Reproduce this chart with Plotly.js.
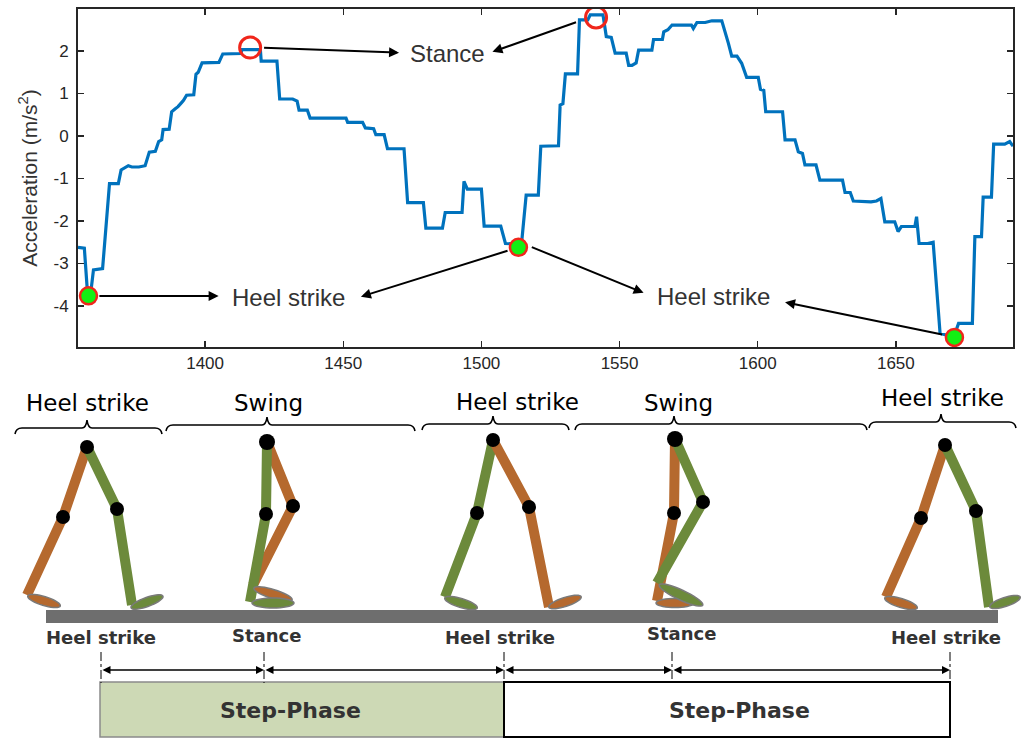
<!DOCTYPE html>
<html><head><meta charset="utf-8">
<script src="https://cdn.plot.ly/plotly-3.0.1.min.js"></script>
<style>html,body{margin:0;padding:0;background:#fff}#chart{width:1024px;height:745px}</style>
</head><body><div id="chart"></div>
<script>
// ---------- chart data ----------
const sampleIndex = [1354,1356.3,1357.5,1358.5,1359.6,1361.5,1362.9,1365.4,1368.6,1369.6,1370.8,1372.2,1373.5,1376,1378.3,1379.8,1382,1383.2,1384.3,1384.8,1387,1387.9,1389.2,1390.2,1391.4,1392.2,1393.3,1395.9,1396.7,1397.5,1398.9,1405,1406.4,1413,1413.3,1420,1420.3,1426,1427,1431.7,1433.3,1434,1437,1438,1451,1451.6,1457,1458,1461,1461.8,1464.8,1466,1472,1473.3,1479,1479.9,1485.9,1486.9,1493,1493.7,1494.9,1500,1501,1507,1508.7,1514.5,1516.2,1520.6,1521.5,1527.9,1528.5,1529.5,1530.4,1534.8,1535.5,1538.5,1539.4,1544,1545.2,1547,1548.4,1552.4,1553.3,1554.5,1556,1556.9,1561.7,1562.3,1565.5,1566,1567.5,1569,1576,1576.7,1578,1581,1583.4,1587,1589.4,1590.6,1592.5,1594.2,1596,1600.2,1601,1602.2,1602.9,1609,1609.9,1613.5,1614.7,1616.2,1617.1,1621.1,1622.5,1630.7,1631.6,1633.5,1634.6,1641,1643,1644.6,1646,1649.6,1650.8,1652,1656.9,1657.5,1658.4,1661.5,1663.5,1666,1669,1671,1672.7,1677.7,1678.6,1681,1681.6,1684.6,1685.4,1689.4,1691.2,1692.4];
const acceleration = [-2.62,-2.64,-3.75,-3.75,-3.15,-3.14,-3.12,-1.12,-1.12,-0.8,-0.76,-0.7,-0.73,-0.73,-0.7,-0.38,-0.36,-0.13,-0.09,0.15,0.16,0.57,0.64,0.69,0.78,0.84,0.96,0.97,1.45,1.5,1.72,1.73,1.93,1.94,2.03,2.03,1.76,1.76,0.87,0.87,0.82,0.61,0.61,0.42,0.42,0.32,0.32,0.19,0.17,0.03,0.03,-0.3,-0.3,-1.57,-1.57,-2.17,-2.17,-1.8,-1.8,-1.07,-1.25,-1.25,-2.12,-2.12,-2.53,-2.55,-1.39,-1.39,-0.24,-0.23,0.73,0.76,1.46,1.46,2.73,2.73,2.85,2.85,2.34,2.32,1.95,1.95,1.66,1.66,1.72,2.02,2.02,2.27,2.27,2.45,2.5,2.61,2.61,2.53,2.67,2.67,2.71,2.71,2.18,1.88,1.88,1.71,1.38,1.38,1.1,1.07,0.57,0.57,-0.09,-0.09,-0.37,-0.41,-0.68,-0.68,-1.04,-1.04,-1.33,-1.33,-1.53,-1.55,-1.53,-1.47,-2.02,-2.02,-2.25,-2.13,-2.13,-1.9,-2.53,-2.53,-2.5,-4.64,-4.7,-4.72,-4.41,-4.41,-2.37,-2.37,-1.44,-1.44,-0.19,-0.19,-0.13,-0.24];
const heelStrikeIdx = [1357.8, 1513.4, 1671.2];
const heelStrikeAcc = [-3.76, -2.62, -4.74];
const stanceIdx = [1416.3, 1541.5];
const stanceAcc = [2.08, 2.79];
const xTicks = [1400, 1450, 1500, 1550, 1600, 1650];
const yTicks = [-4, -3, -2, -1, 0, 1, 2];
const topPhaseLabels = ['Heel strike', 'Swing', 'Heel strike', 'Swing', 'Heel strike'];
const eventLabels = ['Heel strike', 'Stance', 'Heel strike', 'Stance', 'Heel strike'];
const phaseBoxLabels = ['Step-Phase', 'Step-Phase'];

// ---------- illustration geometry (pixel space of the lower panel) ----------
const ORANGE = '#b5692e', GREEN = '#6c8a3b';
const figures = [
  {hip:[87,447], legs:[{c:ORANGE,k:[63,517],a:[27,595]},{c:GREEN,k:[117,509],a:[132,605]}],
   feet:[{c:ORANGE,x:44,y:601,rx:17,ry:4.5,ang:17},{c:GREEN,x:147,y:602,rx:17,ry:4.5,ang:-20}], hipSize:14},
  {hip:[267,442], legs:[{c:ORANGE,k:[293,506],a:[253,585]},{c:GREEN,k:[266,514],a:[250,602]}],
   feet:[{c:ORANGE,x:273,y:594,rx:20,ry:4.5,ang:17},{c:GREEN,x:273,y:603,rx:21,ry:5,ang:0}], hipSize:16},
  {hip:[493,440], legs:[{c:GREEN,k:[477,513],a:[445,597]},{c:ORANGE,k:[529,507],a:[549,607]}],
   feet:[{c:GREEN,x:461,y:603,rx:17,ry:4.5,ang:17},{c:ORANGE,x:565,y:602,rx:17,ry:4.5,ang:-18}], hipSize:14},
  {hip:[675,439], legs:[{c:ORANGE,k:[674,513],a:[657,601]},{c:GREEN,k:[703,502],a:[657,583]}],
   feet:[{c:ORANGE,x:675,y:603,rx:19,ry:4.5,ang:0},{c:GREEN,x:681,y:595,rx:24,ry:5,ang:25}], hipSize:16},
  {hip:[945,445], legs:[{c:ORANGE,k:[921,518],a:[886,597]},{c:GREEN,k:[976,511],a:[989,607]}],
   feet:[{c:ORANGE,x:901,y:603,rx:17,ry:4.5,ang:17},{c:GREEN,x:1005,y:602,rx:16,ry:4.5,ang:-18}], hipSize:14}
];
const topLabelPos = [[87,403],[268,403],[517,402],[678,403],[942,398]];
const braces = [[15,162,87,428],[166,415,267,425],[422,569,493,424],[575,867,674,424],[869,1016,941,422]];
const eventX = [101, 264, 504, 672, 950];
const eventLabelPos = [[101,637],[266,635],[500,637],[681,633],[946,637]];
const boxes = [[100,504,'#cdd9b5','#8a8a8a',1.5],[504,950,'#ffffff','#000000',2]];

function ellipsePath(cx, cy, rx, ry, angDeg) {
  const a = angDeg * Math.PI / 180, n = 36;
  let p = '';
  for (let i = 0; i <= n; i++) {
    const t = 2 * Math.PI * i / n;
    const ex = rx * Math.cos(t), ey = ry * Math.sin(t);
    const x = cx + ex * Math.cos(a) - ey * Math.sin(a);
    const y = cy + ex * Math.sin(a) + ey * Math.cos(a);
    p += (i === 0 ? 'M ' : ' L ') + x.toFixed(2) + ' ' + y.toFixed(2);
  }
  return p + ' Z';
}
function bracePath(x0, x1, xm, y) {
  return `M ${x0} ${y+6} Q ${x0+1} ${y} ${x0+7} ${y} L ${xm-5} ${y} Q ${xm-1} ${y} ${xm} ${y-8} Q ${xm+1} ${y} ${xm+5} ${y} L ${x1-7} ${y} Q ${x1-1} ${y} ${x1} ${y+6}`;
}

const traces = [];
traces.push({x: sampleIndex, y: acceleration, type: 'scatter', mode: 'lines',
  line: {color: '#0072bd', width: 3.2}, hoverinfo: 'skip', xaxis: 'x', yaxis: 'y'});
traces.push({x: stanceIdx, y: stanceAcc, type: 'scatter', mode: 'markers',
  marker: {symbol: 'circle-open', size: 21, color: '#f0261b', line: {color: '#f0261b', width: 3}}, xaxis: 'x', yaxis: 'y'});
traces.push({x: heelStrikeIdx, y: heelStrikeAcc, type: 'scatter', mode: 'markers',
  marker: {symbol: 'circle', size: 17, color: '#13f013', line: {color: '#f0261b', width: 2.5}}, xaxis: 'x', yaxis: 'y'});

// legs
figures.forEach(f => {
  f.legs.forEach(l => {
    traces.push({x: [f.hip[0], l.k[0], l.a[0]], y: [f.hip[1], l.k[1], l.a[1]], type: 'scatter', mode: 'lines',
      line: {color: l.c, width: 10}, xaxis: 'x2', yaxis: 'y2', hoverinfo: 'skip'});
  });
});
// joints
const jx = [], jy = [], js = [];
figures.forEach(f => {
  jx.push(f.hip[0]); jy.push(f.hip[1]); js.push(f.hipSize);
  f.legs.forEach(l => { jx.push(l.k[0]); jy.push(l.k[1]); js.push(14); });
});
traces.push({x: jx, y: jy, type: 'scatter', mode: 'markers', marker: {color: '#000000', size: js, opacity: 1, line: {width: 0}},
  xaxis: 'x2', yaxis: 'y2', hoverinfo: 'skip'});

const shapes = [];
// ground
shapes.push({type: 'rect', xref: 'x2', yref: 'y2', x0: 46, x1: 998, y0: 610, y1: 623,
  fillcolor: '#6e6e6e', line: {width: 0}, layer: 'below'});
figures.forEach(f => f.feet.forEach(ft => {
  shapes.push({type: 'path', xref: 'x2', yref: 'y2', path: ellipsePath(ft.x, ft.y, ft.rx, ft.ry, ft.ang),
    fillcolor: ft.c, line: {color: '#7a7a7a', width: 1.5}});
}));
braces.forEach(b => shapes.push({type: 'path', xref: 'x2', yref: 'y2', path: bracePath(b[0], b[1], b[2], b[3]),
  line: {color: '#000', width: 1.6}}));
eventX.forEach(x => shapes.push({type: 'line', xref: 'x2', yref: 'y2', x0: x, x1: x, y0: 652, y1: 683,
  line: {color: '#000', width: 1, dash: 'dashdot'}}));
boxes.forEach(b => shapes.push({type: 'rect', xref: 'x2', yref: 'y2', x0: b[0], x1: b[1], y0: 682, y1: 737,
  fillcolor: b[2], line: {color: b[3], width: b[4]}, layer: 'below'}));

const annotations = [];
const annFont = {family: 'Liberation Sans, Arial, sans-serif', size: 24, color: '#333333'};
annotations.push({xref: 'x', yref: 'y', x: 1487.7, y: 1.95, text: 'Stance', showarrow: false, font: annFont});
annotations.push({xref: 'x', yref: 'y', x: 1430.2, y: -3.80, text: 'Heel strike', showarrow: false, font: annFont});
annotations.push({xref: 'x', yref: 'y', x: 1584, y: -3.78, text: 'Heel strike', showarrow: false, font: annFont});
const arrows = [
  [1470.2, 1.96, 1420.8, 2.08],
  [1504, 1.98, 1534.8, 2.69],
  [1404.9, -3.765, 1361.2, -3.765],
  [1456.4, -3.78, 1510, -2.69],
  [1558.7, -3.69, 1517.7, -2.60],
  [1609.9, -3.91, 1667.3, -4.68]
];
arrows.forEach(a => annotations.push({xref: 'x', yref: 'y', axref: 'x', ayref: 'y', x: a[0], y: a[1], ax: a[2], ay: a[3],
  text: '', showarrow: true, arrowhead: 2, arrowsize: 1, arrowwidth: 2, arrowcolor: '#000', standoff: 0}));

topPhaseLabels.forEach((t, i) => annotations.push({xref: 'x2', yref: 'y2', x: topLabelPos[i][0], y: topLabelPos[i][1],
  text: t, showarrow: false, font: {family: 'DejaVu Sans, Verdana, sans-serif', size: 23, color: '#000'}}));
eventLabels.forEach((t, i) => annotations.push({xref: 'x2', yref: 'y2', x: eventLabelPos[i][0], y: eventLabelPos[i][1],
  text: '<b>' + t + '</b>', showarrow: false, font: {family: 'DejaVu Sans, sans-serif', size: 18, color: '#333333'}}));
for (let i = 0; i < eventX.length - 1; i++) {
  annotations.push({xref: 'x2', yref: 'y2', axref: 'x2', ayref: 'y2', x: eventX[i+1], y: 670, ax: eventX[i], ay: 670,
    text: '', showarrow: true, arrowhead: 2, arrowside: 'end+start', arrowsize: 1, arrowwidth: 1.6, arrowcolor: '#000', standoff: 0, startstandoff: 0});
}
phaseBoxLabels.forEach((t, i) => annotations.push({xref: 'x2', yref: 'y2', x: (boxes[i][0] + boxes[i][1]) / 2 + (i === 0 ? -12 : 12), y: 710,
  text: '<b>' + t + '</b>', showarrow: false, font: {family: 'DejaVu Sans, sans-serif', size: 22, color: '#333333'}}));

const tickFont = {family: 'Liberation Sans, Arial, sans-serif', size: 17, color: '#262626'};
const layout = {
  width: 1024, height: 745, margin: {l: 0, r: 0, t: 0, b: 0},
  paper_bgcolor: '#ffffff', plot_bgcolor: 'rgba(0,0,0,0)', showlegend: false,
  xaxis: {domain: [78/1024, 1013/1024], range: [1354, 1692.4], tickvals: xTicks, ticktext: xTicks.map(String),
    ticks: 'inside', ticklen: 6, tickwidth: 1.5, tickcolor: '#262626', showline: true, linecolor: '#262626', linewidth: 2,
    mirror: 'ticks', showgrid: false, zeroline: false, tickfont: tickFont, anchor: 'y'},
  yaxis: {domain: [1 - 347/745, 1 - 9/745], range: [-4.965, 2.988], tickvals: yTicks, ticktext: yTicks.map(String),
    ticks: 'inside', ticklen: 6, tickwidth: 1.5, tickcolor: '#262626', showline: true, linecolor: '#262626', linewidth: 2,
    mirror: 'ticks', showgrid: false, zeroline: false, tickfont: tickFont, anchor: 'x', ticklabelstandoff: 4,
    title: {text: 'Acceleration (m/s<sup>2</sup>)', font: {family: 'Liberation Sans, Arial, sans-serif', size: 21, color: '#333333'}, standoff: 10}},
  xaxis2: {domain: [0, 1], range: [0, 1024], visible: false, anchor: 'y2', fixedrange: true},
  yaxis2: {domain: [0, 1], range: [745, 0], visible: false, anchor: 'x2', fixedrange: true},
  shapes: shapes, annotations: annotations
};
Plotly.newPlot('chart', traces, layout, {displayModeBar: false, staticPlot: true});
</script></body></html>
